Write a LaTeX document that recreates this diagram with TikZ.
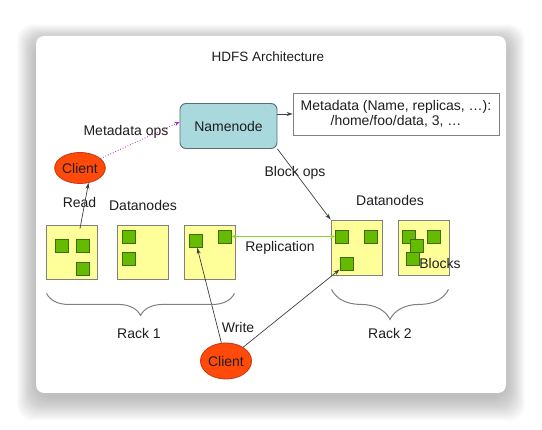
\documentclass[tikz,border=0pt]{standalone}
\usepackage{fontspec}
\setmainfont{Liberation Sans}
\usetikzlibrary{arrows.meta,shapes.geometric,decorations.pathreplacing,calc}
\definecolor{nnfill}{HTML}{A9D9DD}
\definecolor{nnline}{HTML}{5A6E70}
\definecolor{dnfill}{HTML}{FFFF99}
\definecolor{dnline}{HTML}{808080}
\definecolor{blkfill}{HTML}{66BB00}
\definecolor{blkline}{HTML}{3D6B10}
\definecolor{clfill}{HTML}{FF4A0A}
\definecolor{clline}{HTML}{C83A10}
\definecolor{repl}{HTML}{8CD62A}
\definecolor{txt}{HTML}{1E1E1E}
\definecolor{conn}{HTML}{404040}
\definecolor{meta}{HTML}{C020C0}
\tikzset{
  lbl/.style={text=txt,font=\fontsize{14}{16}\selectfont,inner sep=0pt},
  namebox/.style={draw=nnline,fill=nnfill,rounded corners=6pt,line width=0.9pt,minimum width=97pt,minimum height=45pt,text=txt,font=\fontsize{14}{16}\selectfont},
  metabox/.style={draw=dnline,fill=white,line width=0.9pt,minimum width=206pt,minimum height=42pt,align=center,text=txt,font=\fontsize{14}{15}\selectfont,inner sep=0pt},
  client/.style={ellipse,draw=clline,fill=clfill,line width=0.9pt,inner sep=0pt,text=txt,font=\fontsize{14}{16}\selectfont},
  dnode/.style={draw=dnline,fill=dnfill,line width=0.9pt,minimum width=51pt,minimum height=54pt,inner sep=0pt},
  blk/.style={draw=blkline,fill=blkfill,line width=0.9pt,minimum size=13pt,inner sep=0pt},
  conn/.style={draw=conn,line width=0.7pt,-{Stealth[length=6pt,width=4pt]}},
  rbrace/.style={draw=dnline,line width=1pt,decorate,decoration={brace,mirror}},
}
\begin{document}
\begin{tikzpicture}[x=1pt,y=-1pt]
\useasboundingbox (0,0) rectangle (542,430);
% card shadow
\foreach \i in {1,...,24}{
  \fill[black,opacity=0.011,rounded corners=16pt] (36-\i*0.8,36-\i*0.7+5) rectangle (506+\i*0.8,393+\i*1.0+4);
}
\fill[white,rounded corners=8pt] (36,36) rectangle (506,393);

\node[lbl,font=\fontsize{13.5}{15}\selectfont] (title) at (268,57) {HDFS Architecture};

\node[namebox] (nn) at (228.5,126) {Namenode};
\node[metabox] (meta) at (396,114) {Metadata (Name, replicas, …):\\/home/foo/data, 3, …};

\node[client,minimum width=50pt,minimum height=31pt] (c1) at (80,168) {Client};
\node[client,minimum width=51pt,minimum height=36pt] (c2) at (226,361) {Client};

% datanodes
\node[dnode] (d1) at (71.5,252) {};
\node[dnode] (d2) at (142.5,252) {};
\node[dnode] (d3) at (209.5,252) {};
\node[dnode,minimum height=55pt] (d4) at (356.5,247.5) {};
\node[dnode,minimum height=55pt] (d5) at (423.5,247.5) {};

% blocks
\node[blk] (b11) at (61.5,245.5) {};
\node[blk] (b12) at (82.5,245.5) {};
\node[blk] (b13) at (82.5,268.5) {};
\node[blk] (b21) at (128.5,236.5) {};
\node[blk] (b22) at (128.5,259) {};
\node[blk] (b31) at (195.5,241) {};
\node[blk] (b32) at (224.5,236.5) {};
\node[blk] (b41) at (342,236.5) {};
\node[blk] (b42) at (371,236.5) {};
\node[blk] (b43) at (346.5,264) {};
\node[blk] (b51) at (409,237) {};
\node[blk] (b52) at (433.5,237) {};
\node[blk] (b53) at (417,246) {};
\node[blk] (b54) at (413,259) {};

% labels
\node[lbl] (lmo) at (126,132) {Metadata ops};
\node[lbl] (lread) at (79.5,202) {Read};
\node[lbl] (ldn1) at (143,205) {Datanodes};
\node[lbl] (lbo) at (295,173) {Block ops};
\node[lbl] (ldn2) at (390,200) {Datanodes};
\node[lbl] (lrep) at (280,248) {Replication};
\node[lbl] (lr1) at (139,333) {Rack 1};
\node[lbl] (lr2) at (390,333) {Rack 2};
\node[lbl] (lw) at (238,327) {Write};
\node[lbl] (lblk) at (440,263) {Blocks};

% connectors
\draw[conn] (nn.east |- meta.west) -- (meta.west);
\draw[conn,draw=meta,dotted,line width=0.9pt,-{Stealth[length=5pt,width=4pt,fill=meta]}] (c1) -- ($(nn.west)+(0,-4)$);
\draw[conn] ($(d1.north)+(8.5,4)$) -- ($(c1.south)+(8.5,-1)$);
\draw[conn] (nn.south east) -- (d4.north west);
\draw[draw=repl,line width=0.9pt,{Stealth[length=5pt,width=4pt]}-{Stealth[length=5pt,width=4pt]}] (b32.east) -- (b41.west);
\draw[conn] (c2) -- (b31);
\draw[conn] (c2) -- (b43);

% racks
\draw[rbrace,decoration={amplitude=22pt}] ($(d1.south west)+(1,14)$) -- ($(d3.south east)+(-1,14)$);
\draw[rbrace,decoration={amplitude=30pt}] ($(d4.south west)+(1,14)$) -- ($(d5.south east)+(-1,14)$);
\end{tikzpicture}
\end{document}
